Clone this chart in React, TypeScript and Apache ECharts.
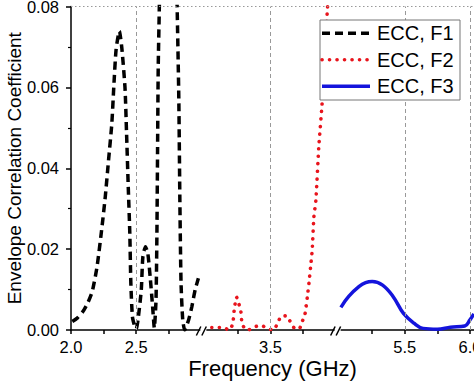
import React, { useEffect, useRef } from "react";
import * as echarts from "echarts";

// ---- data (frequency in GHz, ECC) ----
const F1_FREQ = [2.01, 2.05, 2.09, 2.13, 2.163, 2.2, 2.238, 2.263, 2.288, 2.313, 2.328, 2.346, 2.371, 2.389, 2.414, 2.426, 2.439, 2.451, 2.459, 2.471, 2.489, 2.5, 2.514, 2.539, 2.551, 2.571, 2.589, 2.607, 2.626, 2.639, 2.652, 2.659, 2.664, 2.669, 2.677, 2.69, 2.745, 2.8, 2.814, 2.827, 2.835, 2.844, 2.857, 2.872, 2.902, 2.927, 2.952, 2.977];
const F1_ECC = [0.0021, 0.003, 0.0045, 0.0068, 0.0095, 0.0157, 0.0256, 0.033, 0.042, 0.051, 0.06, 0.0694, 0.0739, 0.07, 0.06, 0.0488, 0.0355, 0.024, 0.0116, 0.0033, 0.0008, 0.0003, 0.0025, 0.0099, 0.018, 0.0206, 0.019, 0.0132, 0.0058, 0.0005, 0.0074, 0.024, 0.0446, 0.065, 0.079, 0.1, 0.13, 0.1, 0.08, 0.057, 0.032, 0.0116, 0.0025, 0.0, 0.0025, 0.0058, 0.0099, 0.0128];

const F2_FREQ = [3.05, 3.076, 3.134, 3.184, 3.21, 3.222, 3.24, 3.258, 3.273, 3.285, 3.328, 3.379, 3.43, 3.48, 3.523, 3.556, 3.58, 3.623, 3.656, 3.68, 3.72, 3.74, 3.765, 3.783, 3.795, 3.808, 3.82, 3.833, 3.848, 3.87, 3.898, 3.936, 3.96];
const F2_ECC = [0.0006, 0.0006, 0.0006, 0.0, 0.0015, 0.005, 0.0081, 0.0064, 0.0045, 0.0012, 0.0, 0.0008, 0.0011, 0.0003, 0.0, 0.0018, 0.0033, 0.0035, 0.0018, 0.0006, 0.0003, 0.0018, 0.004, 0.0083, 0.0116, 0.0157, 0.0198, 0.028, 0.032, 0.045, 0.057, 0.079, 0.09];

const F3_FREQ = [5.01, 5.07, 5.148, 5.2, 5.25, 5.33, 5.41, 5.49, 5.57, 5.64, 5.75, 5.85, 5.96, 6.0, 6.03];
const F3_ECC = [0.0056, 0.0083, 0.0107, 0.0117, 0.012, 0.0111, 0.0083, 0.0041, 0.0017, 0.0004, 0.0002, 0.0007, 0.001, 0.0025, 0.004];

const SERIES_NAMES = ["ECC, F1", "ECC, F2", "ECC, F3"];
const X_LABEL_FREQS = [2.0, 2.5, 3.5, 5.5, 6.0];
const X_TICK_FREQS = [2.0, 2.25, 2.5, 2.75, 3.25, 3.5, 3.75, 5.25, 5.5, 5.75, 6.0];
const X_GRID_FREQS = [2.5, 3.5, 5.5, 6.0];
const Y_MAX = 0.08;
const Y_STEP = 0.02;

// broken axis: three 1-GHz segments placed side by side with small gaps
const GAP = 0.03;
const toDisp = (f: number) => (f <= 3.0 ? f - 2 : f < 4.5 ? f - 2 + GAP : f - 3 + 2 * GAP);
const toFreq = (d: number) => (d <= 1 + GAP / 2 ? d + 2 : d <= 2 + GAP * 1.5 ? d + 2 - GAP : d + 3 - 2 * GAP);
const BREAKS = [1 + GAP / 2, 2 + GAP * 1.5];

const FONT = "'Liberation Sans', Arial, Helvetica, sans-serif";
const COLORS = ["#000000", "#e8141c", "#1414dc"];
const WIDTHS = [3.5, 3.6, 3.5];
const DASHES: (number[] | null)[] = [[8, 5], [0.1, 7.4], null];
const CAPS = ["butt", "round", "butt"];

export default function App() {
  const ref = useRef<HTMLDivElement>(null);
  useEffect(() => {
    if (!ref.current) return;
    const chart = echarts.init(ref.current, null, { renderer: "svg" });
    const pts = (fs: number[], vs: number[]) => fs.map((f, i) => [toDisp(f), vs[i]]);
    const allData = [pts(F1_FREQ, F1_ECC), pts(F2_FREQ, F2_ECC), pts(F3_FREQ, F3_ECC)];
    chart.setOption({
      animation: false,
      textStyle: { fontFamily: FONT },
      grid: { left: 71, top: 6.5, width: 412, height: 323.5, containLabel: false, outerBoundsMode: "none" },
      xAxis: {
        type: "value",
        min: 0,
        max: toDisp(6.1),
        name: "Frequency (GHz)",
        nameLocation: "middle",
        nameGap: 27,
        nameMoveOverlap: false,
        nameTextStyle: { fontSize: 22, color: "#000", fontFamily: FONT, padding: [0, 9, 0, 0] },
        axisLine: { show: true, lineStyle: { color: "#000", width: 1.5 } },
        axisTick: { show: true, length: 4, lineStyle: { color: "#000", width: 1.5 }, customValues: X_TICK_FREQS.map(toDisp) },
        axisLabel: {
          fontSize: 16.5,
          color: "#000",
          margin: 8,
          fontFamily: FONT,
          customValues: X_LABEL_FREQS.map(toDisp),
          formatter: (v: number) => toFreq(v).toFixed(1),
        },
        splitLine: { show: false },
      },
      yAxis: {
        type: "value",
        min: 0,
        max: Y_MAX,
        interval: Y_STEP,
        name: "Envelope Correlation Coefficient",
        nameLocation: "middle",
        nameGap: 47,
        nameMoveOverlap: false,
        nameTextStyle: { fontSize: 19, color: "#000", fontFamily: FONT },
        axisLine: { show: true, lineStyle: { color: "#000", width: 1.5 } },
        axisTick: { show: true, inside: false, length: 5, lineStyle: { color: "#000", width: 1.5 } },
        minorTick: { show: true, splitNumber: 2, length: 3, lineStyle: { color: "#000", width: 1.2 } },
        axisLabel: { fontSize: 16.5, color: "#000", margin: 12, fontFamily: FONT, formatter: (v: number) => v.toFixed(2) },
        splitLine: { show: false },
      },
      series: SERIES_NAMES.map((name, i) => ({
        name,
        type: "line",
        data: allData[i],
        showSymbol: false,
        symbol: "none",
        smooth: i === 2 ? 0.4 : 0.2,
        clip: true,
        lineStyle: { color: COLORS[i], width: WIDTHS[i], type: DASHES[i] || "solid", cap: CAPS[i] },
        itemStyle: { color: COLORS[i] },
        z: 3,
        ...(i === 0
          ? {
              markLine: {
                silent: true,
                symbol: ["none", "none"],
                label: { show: false },
                animation: false,
                data: [
                  ...X_GRID_FREQS.map((f) => ({ xAxis: toDisp(f), lineStyle: { color: "#999", width: 1, type: [4, 3] } })),
                  { yAxis: Y_MAX, lineStyle: { color: "#999", width: 1, type: [1.5, 2.5] } },
                ],
              },
            }
          : {}),
      })),
    });

    const graphics: any[] = [];
    // axis-break marks "//"
    const y0 = chart.convertToPixel({ yAxisIndex: 0 }, 0) as number;
    BREAKS.forEach((b) => {
      const x = chart.convertToPixel({ xAxisIndex: 0 }, b) as number;
      graphics.push({ type: "rect", shape: { x: x - 3, y: y0 - 3, width: 6, height: 9 }, style: { fill: "#fff" }, z: 100 });
      graphics.push({ type: "line", shape: { x1: x - 7, y1: y0 + 5.5, x2: x - 2.5, y2: y0 - 3.5 }, style: { stroke: "#000", lineWidth: 1.5 }, z: 101 });
      graphics.push({ type: "line", shape: { x1: x - 1.5, y1: y0 + 5.5, x2: x + 3, y2: y0 - 3.5 }, style: { stroke: "#000", lineWidth: 1.5 }, z: 101 });
    });
    // legend box
    const LX = 320, LY = 20, LW = 140, LH = 80;
    graphics.push({ type: "rect", shape: { x: LX, y: LY, width: LW, height: LH }, style: { fill: "#fff", stroke: "#777", lineWidth: 1 }, z: 200 });
    SERIES_NAMES.forEach((name, i) => {
      const cy = LY + 13.3 + i * 26.5;
      graphics.push({
        type: "line",
        shape: { x1: LX + 2, y1: cy, x2: LX + 50, y2: cy },
        style: { stroke: COLORS[i], lineWidth: WIDTHS[i], lineDash: DASHES[i] || undefined, lineCap: CAPS[i] },
        z: 201,
      });
      graphics.push({
        type: "text",
        x: LX + 57,
        y: cy,
        style: { text: name, fontSize: 20, fontFamily: FONT, fill: "#000", textVerticalAlign: "middle", verticalAlign: "middle", textAlign: "left", align: "left" },
        z: 201,
      });
    });
    chart.setOption({ graphic: graphics });

    return () => chart.dispose();
  }, []);
  return <div ref={ref} style={{ position: "absolute", left: 0, top: 0, width: 474, height: 385 }} />;
}
